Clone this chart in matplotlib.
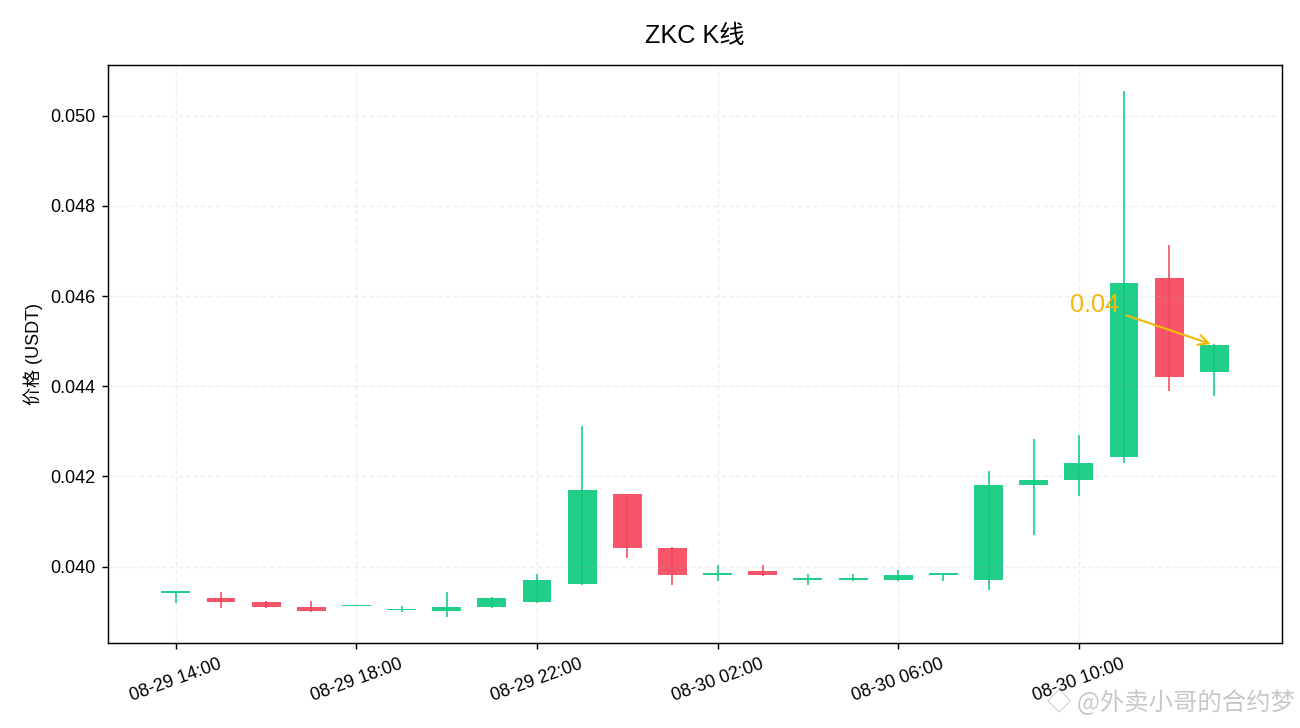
import matplotlib
matplotlib.use('Agg')
import matplotlib.pyplot as plt
import matplotlib.dates as mdates
import pandas as pd

plt.rcParams['font.family'] = ['Liberation Sans', 'Noto Sans CJK SC']
plt.rcParams['axes.unicode_minus'] = False

times = pd.date_range('2025-08-29 14:00', periods=24, freq='h')
opens  = [0.03942, 0.03930, 0.03921, 0.03911, 0.03912, 0.03903, 0.03902, 0.03911,
          0.03921, 0.03961, 0.04160, 0.04041, 0.03981, 0.03990, 0.03970, 0.03970,
          0.03970, 0.03981, 0.03970, 0.04180, 0.04191, 0.04242, 0.04641, 0.04432]
highs  = [0.03943, 0.03944, 0.03924, 0.03924, 0.03915, 0.03913, 0.03944, 0.03933,
          0.03983, 0.04312, 0.04162, 0.04043, 0.04003, 0.04003, 0.03983, 0.03983,
          0.03992, 0.03986, 0.04213, 0.04284, 0.04292, 0.05054, 0.04714, 0.04493]
lows   = [0.03919, 0.03908, 0.03908, 0.03900, 0.03912, 0.03900, 0.03889, 0.03908,
          0.03919, 0.03959, 0.04019, 0.03959, 0.03968, 0.03979, 0.03959, 0.03968,
          0.03968, 0.03968, 0.03948, 0.04070, 0.04157, 0.04229, 0.04389, 0.04379]
closes = [0.03943, 0.03921, 0.03911, 0.03902, 0.03915, 0.03905, 0.03911, 0.03930,
          0.03970, 0.04171, 0.04041, 0.03981, 0.03986, 0.03981, 0.03975, 0.03974,
          0.03981, 0.03986, 0.04180, 0.04191, 0.04230, 0.04629, 0.04421, 0.04491]

UP = '#0ecb81'
DOWN = '#f6465d'

fig = plt.figure(figsize=(10, 5.6), dpi=130)
ax = fig.add_axes([0.0831, 0.1168, 0.9031, 0.7939])

x = mdates.date2num(times)
w = 0.64 / 24
for xi, o, h, l, c in zip(x, opens, highs, lows, closes):
    col = UP if c >= o else DOWN
    ax.vlines(xi, l, h, color=col, lw=1.1, alpha=0.8)
    bot = min(o, c)
    hgt = max(abs(c - o), 0.00004)
    ax.bar(xi, hgt, w, bottom=bot, color=col, alpha=0.92)

# one label every 4 candles
ax.set_xticks(x[::4])
ax.xaxis.set_major_formatter(mdates.DateFormatter('%m-%d %H:%M'))
plt.setp(ax.get_xticklabels(), rotation=20)
ax.grid(True, ls='--', alpha=0.2)
ax.set_ylabel('价格 (USDT)')
ax.set_title('ZKC K线', fontsize=14, pad=12)

ax.annotate(f'{closes[-1]:.2f}', xy=(x[-1], closes[-1]), xytext=(x[-3] - 0.1 / 24, closes[-1] * 1.02),
            ha='right', va='center', fontsize=14, color='#f0b90b',
            arrowprops=dict(arrowstyle='->', color='#f0b90b', lw=1.2))

fig.text(0.996, 0.034, '◇ @外卖小哥的合约梦', ha='right', va='center', fontsize=13.5,
         color='#c8c8c8', family=['Noto Sans CJK SC', 'DejaVu Sans'])

fig.savefig('out.png', dpi=130)
